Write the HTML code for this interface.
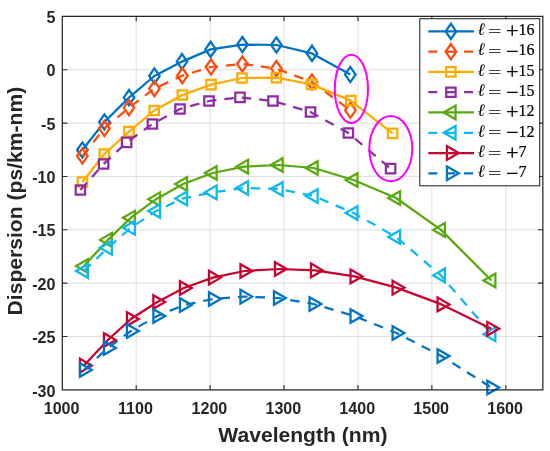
<!DOCTYPE html>
<html><head><meta charset="utf-8"><title>Dispersion vs Wavelength</title>
<style>html,body{margin:0;padding:0;background:#fff}svg{display:block}</style></head>
<body>
<svg width="550" height="451" viewBox="0 0 550 451">
<rect width="550" height="451" fill="#fff"/>
<path d="M136.22,16.36V389.9M210.13,16.36V389.9M284.05,16.36V389.9M357.97,16.36V389.9M431.88,16.36V389.9M505.80,16.36V389.9M62.3,69.72H542.85M62.3,123.09H542.85M62.3,176.45H542.85M62.3,229.81H542.85M62.3,283.17H542.85M62.3,336.54H542.85" stroke="#dfdfdf" stroke-width="1" fill="none"/>
<path d="M136.22,389.9v-5.0M136.22,16.36v5.0M210.13,389.9v-5.0M210.13,16.36v5.0M284.05,389.9v-5.0M284.05,16.36v5.0M357.97,389.9v-5.0M357.97,16.36v5.0M431.88,389.9v-5.0M431.88,16.36v5.0M505.80,389.9v-5.0M505.80,16.36v5.0M62.3,69.72h5.0M542.85,69.72h-5.0M62.3,123.09h5.0M542.85,123.09h-5.0M62.3,176.45h5.0M542.85,176.45h-5.0M62.3,229.81h5.0M542.85,229.81h-5.0M62.3,283.17h5.0M542.85,283.17h-5.0M62.3,336.54h5.0M542.85,336.54h-5.0" stroke="#2e2e2e" stroke-width="1.1" fill="none"/>
<path d="M82.40,150.00L104.40,122.00L129.00,97.60L154.40,76.00L182.00,61.60L210.60,49.40L242.40,44.60L276.40,45.00L312.00,53.40L350.30,74.50" fill="none" stroke="#0072C6" stroke-width="2.25" stroke-linejoin="round"/>
<path d="M77.10,150.00L82.40,142.40L87.70,150.00L82.40,157.60Z" fill="none" stroke="#0072C6" stroke-width="2.25" stroke-linejoin="miter"/>
<path d="M99.10,122.00L104.40,114.40L109.70,122.00L104.40,129.60Z" fill="none" stroke="#0072C6" stroke-width="2.25" stroke-linejoin="miter"/>
<path d="M123.70,97.60L129.00,90.00L134.30,97.60L129.00,105.20Z" fill="none" stroke="#0072C6" stroke-width="2.25" stroke-linejoin="miter"/>
<path d="M149.10,76.00L154.40,68.40L159.70,76.00L154.40,83.60Z" fill="none" stroke="#0072C6" stroke-width="2.25" stroke-linejoin="miter"/>
<path d="M176.70,61.60L182.00,54.00L187.30,61.60L182.00,69.20Z" fill="none" stroke="#0072C6" stroke-width="2.25" stroke-linejoin="miter"/>
<path d="M205.30,49.40L210.60,41.80L215.90,49.40L210.60,57.00Z" fill="none" stroke="#0072C6" stroke-width="2.25" stroke-linejoin="miter"/>
<path d="M237.10,44.60L242.40,37.00L247.70,44.60L242.40,52.20Z" fill="none" stroke="#0072C6" stroke-width="2.25" stroke-linejoin="miter"/>
<path d="M271.10,45.00L276.40,37.40L281.70,45.00L276.40,52.60Z" fill="none" stroke="#0072C6" stroke-width="2.25" stroke-linejoin="miter"/>
<path d="M306.70,53.40L312.00,45.80L317.30,53.40L312.00,61.00Z" fill="none" stroke="#0072C6" stroke-width="2.25" stroke-linejoin="miter"/>
<path d="M345.00,74.50L350.30,66.90L355.60,74.50L350.30,82.10Z" fill="none" stroke="#0072C6" stroke-width="2.25" stroke-linejoin="miter"/>
<path d="M82.40,156.00L104.40,128.40L129.00,107.60L154.40,88.60L182.40,75.60L211.00,67.00L242.40,64.00L276.40,68.60L312.00,82.00L350.40,110.30" fill="none" stroke="#FF4A0A" stroke-width="2.25" stroke-linejoin="round" stroke-dasharray="9.6 7.9"/>
<path d="M77.10,156.00L82.40,148.40L87.70,156.00L82.40,163.60Z" fill="none" stroke="#FF4A0A" stroke-width="2.25" stroke-linejoin="miter"/>
<path d="M99.10,128.40L104.40,120.80L109.70,128.40L104.40,136.00Z" fill="none" stroke="#FF4A0A" stroke-width="2.25" stroke-linejoin="miter"/>
<path d="M123.70,107.60L129.00,100.00L134.30,107.60L129.00,115.20Z" fill="none" stroke="#FF4A0A" stroke-width="2.25" stroke-linejoin="miter"/>
<path d="M149.10,88.60L154.40,81.00L159.70,88.60L154.40,96.20Z" fill="none" stroke="#FF4A0A" stroke-width="2.25" stroke-linejoin="miter"/>
<path d="M177.10,75.60L182.40,68.00L187.70,75.60L182.40,83.20Z" fill="none" stroke="#FF4A0A" stroke-width="2.25" stroke-linejoin="miter"/>
<path d="M205.70,67.00L211.00,59.40L216.30,67.00L211.00,74.60Z" fill="none" stroke="#FF4A0A" stroke-width="2.25" stroke-linejoin="miter"/>
<path d="M237.10,64.00L242.40,56.40L247.70,64.00L242.40,71.60Z" fill="none" stroke="#FF4A0A" stroke-width="2.25" stroke-linejoin="miter"/>
<path d="M271.10,68.60L276.40,61.00L281.70,68.60L276.40,76.20Z" fill="none" stroke="#FF4A0A" stroke-width="2.25" stroke-linejoin="miter"/>
<path d="M306.70,82.00L312.00,74.40L317.30,82.00L312.00,89.60Z" fill="none" stroke="#FF4A0A" stroke-width="2.25" stroke-linejoin="miter"/>
<path d="M345.10,110.30L350.40,102.70L355.70,110.30L350.40,117.90Z" fill="none" stroke="#FF4A0A" stroke-width="2.25" stroke-linejoin="miter"/>
<path d="M82.40,182.00L104.40,154.00L129.00,131.60L154.20,110.50L182.40,95.00L211.00,84.60L242.00,78.00L276.40,77.60L311.60,84.40L350.80,100.60L392.60,133.40" fill="none" stroke="#FFAA00" stroke-width="2.25" stroke-linejoin="round"/>
<path d="M77.70,177.30H87.10V186.70H77.70Z" fill="none" stroke="#FFAA00" stroke-width="2.25" stroke-linejoin="miter"/>
<path d="M99.70,149.30H109.10V158.70H99.70Z" fill="none" stroke="#FFAA00" stroke-width="2.25" stroke-linejoin="miter"/>
<path d="M124.30,126.90H133.70V136.30H124.30Z" fill="none" stroke="#FFAA00" stroke-width="2.25" stroke-linejoin="miter"/>
<path d="M149.50,105.80H158.90V115.20H149.50Z" fill="none" stroke="#FFAA00" stroke-width="2.25" stroke-linejoin="miter"/>
<path d="M177.70,90.30H187.10V99.70H177.70Z" fill="none" stroke="#FFAA00" stroke-width="2.25" stroke-linejoin="miter"/>
<path d="M206.30,79.90H215.70V89.30H206.30Z" fill="none" stroke="#FFAA00" stroke-width="2.25" stroke-linejoin="miter"/>
<path d="M237.30,73.30H246.70V82.70H237.30Z" fill="none" stroke="#FFAA00" stroke-width="2.25" stroke-linejoin="miter"/>
<path d="M271.70,72.90H281.10V82.30H271.70Z" fill="none" stroke="#FFAA00" stroke-width="2.25" stroke-linejoin="miter"/>
<path d="M306.90,79.70H316.30V89.10H306.90Z" fill="none" stroke="#FFAA00" stroke-width="2.25" stroke-linejoin="miter"/>
<path d="M346.10,95.90H355.50V105.30H346.10Z" fill="none" stroke="#FFAA00" stroke-width="2.25" stroke-linejoin="miter"/>
<path d="M387.90,128.70H397.30V138.10H387.90Z" fill="none" stroke="#FFAA00" stroke-width="2.25" stroke-linejoin="miter"/>
<path d="M80.40,190.00L103.60,164.00L126.60,142.40L152.40,124.00L180.00,109.00L209.00,101.00L240.00,97.40L273.00,101.00L310.50,112.00L348.40,133.00L390.60,168.60" fill="none" stroke="#8E2CA4" stroke-width="2.25" stroke-linejoin="round" stroke-dasharray="9.6 7.9"/>
<path d="M75.70,185.30H85.10V194.70H75.70Z" fill="none" stroke="#8E2CA4" stroke-width="2.25" stroke-linejoin="miter"/>
<path d="M98.90,159.30H108.30V168.70H98.90Z" fill="none" stroke="#8E2CA4" stroke-width="2.25" stroke-linejoin="miter"/>
<path d="M121.90,137.70H131.30V147.10H121.90Z" fill="none" stroke="#8E2CA4" stroke-width="2.25" stroke-linejoin="miter"/>
<path d="M147.70,119.30H157.10V128.70H147.70Z" fill="none" stroke="#8E2CA4" stroke-width="2.25" stroke-linejoin="miter"/>
<path d="M175.30,104.30H184.70V113.70H175.30Z" fill="none" stroke="#8E2CA4" stroke-width="2.25" stroke-linejoin="miter"/>
<path d="M204.30,96.30H213.70V105.70H204.30Z" fill="none" stroke="#8E2CA4" stroke-width="2.25" stroke-linejoin="miter"/>
<path d="M235.30,92.70H244.70V102.10H235.30Z" fill="none" stroke="#8E2CA4" stroke-width="2.25" stroke-linejoin="miter"/>
<path d="M268.30,96.30H277.70V105.70H268.30Z" fill="none" stroke="#8E2CA4" stroke-width="2.25" stroke-linejoin="miter"/>
<path d="M305.80,107.30H315.20V116.70H305.80Z" fill="none" stroke="#8E2CA4" stroke-width="2.25" stroke-linejoin="miter"/>
<path d="M343.70,128.30H353.10V137.70H343.70Z" fill="none" stroke="#8E2CA4" stroke-width="2.25" stroke-linejoin="miter"/>
<path d="M385.90,163.90H395.30V173.30H385.90Z" fill="none" stroke="#8E2CA4" stroke-width="2.25" stroke-linejoin="miter"/>
<path d="M83.90,266.00L107.90,239.90L130.90,217.70L156.10,199.20L183.10,184.00L212.70,173.00L244.10,166.70L278.70,165.00L313.70,168.00L353.50,180.00L396.10,198.00L441.00,229.90L491.40,280.50" fill="none" stroke="#58A80E" stroke-width="2.25" stroke-linejoin="round"/>
<path d="M76.00,266.00L87.85,259.16L87.85,272.84Z" fill="none" stroke="#58A80E" stroke-width="2.25" stroke-linejoin="miter"/>
<path d="M100.00,239.90L111.85,233.06L111.85,246.74Z" fill="none" stroke="#58A80E" stroke-width="2.25" stroke-linejoin="miter"/>
<path d="M123.00,217.70L134.85,210.86L134.85,224.54Z" fill="none" stroke="#58A80E" stroke-width="2.25" stroke-linejoin="miter"/>
<path d="M148.20,199.20L160.05,192.36L160.05,206.04Z" fill="none" stroke="#58A80E" stroke-width="2.25" stroke-linejoin="miter"/>
<path d="M175.20,184.00L187.05,177.16L187.05,190.84Z" fill="none" stroke="#58A80E" stroke-width="2.25" stroke-linejoin="miter"/>
<path d="M204.80,173.00L216.65,166.16L216.65,179.84Z" fill="none" stroke="#58A80E" stroke-width="2.25" stroke-linejoin="miter"/>
<path d="M236.20,166.70L248.05,159.86L248.05,173.54Z" fill="none" stroke="#58A80E" stroke-width="2.25" stroke-linejoin="miter"/>
<path d="M270.80,165.00L282.65,158.16L282.65,171.84Z" fill="none" stroke="#58A80E" stroke-width="2.25" stroke-linejoin="miter"/>
<path d="M305.80,168.00L317.65,161.16L317.65,174.84Z" fill="none" stroke="#58A80E" stroke-width="2.25" stroke-linejoin="miter"/>
<path d="M345.60,180.00L357.45,173.16L357.45,186.84Z" fill="none" stroke="#58A80E" stroke-width="2.25" stroke-linejoin="miter"/>
<path d="M388.20,198.00L400.05,191.16L400.05,204.84Z" fill="none" stroke="#58A80E" stroke-width="2.25" stroke-linejoin="miter"/>
<path d="M433.10,229.90L444.95,223.06L444.95,236.74Z" fill="none" stroke="#58A80E" stroke-width="2.25" stroke-linejoin="miter"/>
<path d="M483.50,280.50L495.35,273.66L495.35,287.34Z" fill="none" stroke="#58A80E" stroke-width="2.25" stroke-linejoin="miter"/>
<path d="M83.90,271.00L107.90,247.80L130.90,227.80L156.10,211.00L183.10,198.40L212.70,192.40L244.10,188.00L278.70,189.00L313.70,196.00L353.50,213.00L396.10,237.00L441.00,275.40L491.40,334.20" fill="none" stroke="#0CB8F2" stroke-width="2.25" stroke-linejoin="round" stroke-dasharray="9.6 7.9"/>
<path d="M76.00,271.00L87.85,264.16L87.85,277.84Z" fill="none" stroke="#0CB8F2" stroke-width="2.25" stroke-linejoin="miter"/>
<path d="M100.00,247.80L111.85,240.96L111.85,254.64Z" fill="none" stroke="#0CB8F2" stroke-width="2.25" stroke-linejoin="miter"/>
<path d="M123.00,227.80L134.85,220.96L134.85,234.64Z" fill="none" stroke="#0CB8F2" stroke-width="2.25" stroke-linejoin="miter"/>
<path d="M148.20,211.00L160.05,204.16L160.05,217.84Z" fill="none" stroke="#0CB8F2" stroke-width="2.25" stroke-linejoin="miter"/>
<path d="M175.20,198.40L187.05,191.56L187.05,205.24Z" fill="none" stroke="#0CB8F2" stroke-width="2.25" stroke-linejoin="miter"/>
<path d="M204.80,192.40L216.65,185.56L216.65,199.24Z" fill="none" stroke="#0CB8F2" stroke-width="2.25" stroke-linejoin="miter"/>
<path d="M236.20,188.00L248.05,181.16L248.05,194.84Z" fill="none" stroke="#0CB8F2" stroke-width="2.25" stroke-linejoin="miter"/>
<path d="M270.80,189.00L282.65,182.16L282.65,195.84Z" fill="none" stroke="#0CB8F2" stroke-width="2.25" stroke-linejoin="miter"/>
<path d="M305.80,196.00L317.65,189.16L317.65,202.84Z" fill="none" stroke="#0CB8F2" stroke-width="2.25" stroke-linejoin="miter"/>
<path d="M345.60,213.00L357.45,206.16L357.45,219.84Z" fill="none" stroke="#0CB8F2" stroke-width="2.25" stroke-linejoin="miter"/>
<path d="M388.20,237.00L400.05,230.16L400.05,243.84Z" fill="none" stroke="#0CB8F2" stroke-width="2.25" stroke-linejoin="miter"/>
<path d="M433.10,275.40L444.95,268.56L444.95,282.24Z" fill="none" stroke="#0CB8F2" stroke-width="2.25" stroke-linejoin="miter"/>
<path d="M483.50,334.20L495.35,327.36L495.35,341.04Z" fill="none" stroke="#0CB8F2" stroke-width="2.25" stroke-linejoin="miter"/>
<path d="M83.90,365.60L107.90,340.00L130.90,319.00L157.30,302.00L183.90,288.00L212.90,277.60L244.40,271.00L278.90,269.00L314.90,270.40L354.50,276.40L396.50,287.60L441.50,304.40L491.30,328.70" fill="none" stroke="#C8002E" stroke-width="2.25" stroke-linejoin="round"/>
<path d="M91.80,365.60L79.95,358.76L79.95,372.44Z" fill="none" stroke="#C8002E" stroke-width="2.25" stroke-linejoin="miter"/>
<path d="M115.80,340.00L103.95,333.16L103.95,346.84Z" fill="none" stroke="#C8002E" stroke-width="2.25" stroke-linejoin="miter"/>
<path d="M138.80,319.00L126.95,312.16L126.95,325.84Z" fill="none" stroke="#C8002E" stroke-width="2.25" stroke-linejoin="miter"/>
<path d="M165.20,302.00L153.35,295.16L153.35,308.84Z" fill="none" stroke="#C8002E" stroke-width="2.25" stroke-linejoin="miter"/>
<path d="M191.80,288.00L179.95,281.16L179.95,294.84Z" fill="none" stroke="#C8002E" stroke-width="2.25" stroke-linejoin="miter"/>
<path d="M220.80,277.60L208.95,270.76L208.95,284.44Z" fill="none" stroke="#C8002E" stroke-width="2.25" stroke-linejoin="miter"/>
<path d="M252.30,271.00L240.45,264.16L240.45,277.84Z" fill="none" stroke="#C8002E" stroke-width="2.25" stroke-linejoin="miter"/>
<path d="M286.80,269.00L274.95,262.16L274.95,275.84Z" fill="none" stroke="#C8002E" stroke-width="2.25" stroke-linejoin="miter"/>
<path d="M322.80,270.40L310.95,263.56L310.95,277.24Z" fill="none" stroke="#C8002E" stroke-width="2.25" stroke-linejoin="miter"/>
<path d="M362.40,276.40L350.55,269.56L350.55,283.24Z" fill="none" stroke="#C8002E" stroke-width="2.25" stroke-linejoin="miter"/>
<path d="M404.40,287.60L392.55,280.76L392.55,294.44Z" fill="none" stroke="#C8002E" stroke-width="2.25" stroke-linejoin="miter"/>
<path d="M449.40,304.40L437.55,297.56L437.55,311.24Z" fill="none" stroke="#C8002E" stroke-width="2.25" stroke-linejoin="miter"/>
<path d="M499.20,328.70L487.35,321.86L487.35,335.54Z" fill="none" stroke="#C8002E" stroke-width="2.25" stroke-linejoin="miter"/>
<path d="M83.90,370.00L107.90,348.00L130.90,331.00L157.30,316.00L183.90,305.00L212.90,299.00L244.40,296.60L277.90,298.00L313.50,304.00L354.50,316.00L396.50,333.00L441.50,356.00L491.30,387.50" fill="none" stroke="#0072C6" stroke-width="2.25" stroke-linejoin="round" stroke-dasharray="9.6 7.9"/>
<path d="M91.80,370.00L79.95,363.16L79.95,376.84Z" fill="none" stroke="#0072C6" stroke-width="2.25" stroke-linejoin="miter"/>
<path d="M115.80,348.00L103.95,341.16L103.95,354.84Z" fill="none" stroke="#0072C6" stroke-width="2.25" stroke-linejoin="miter"/>
<path d="M138.80,331.00L126.95,324.16L126.95,337.84Z" fill="none" stroke="#0072C6" stroke-width="2.25" stroke-linejoin="miter"/>
<path d="M165.20,316.00L153.35,309.16L153.35,322.84Z" fill="none" stroke="#0072C6" stroke-width="2.25" stroke-linejoin="miter"/>
<path d="M191.80,305.00L179.95,298.16L179.95,311.84Z" fill="none" stroke="#0072C6" stroke-width="2.25" stroke-linejoin="miter"/>
<path d="M220.80,299.00L208.95,292.16L208.95,305.84Z" fill="none" stroke="#0072C6" stroke-width="2.25" stroke-linejoin="miter"/>
<path d="M252.30,296.60L240.45,289.76L240.45,303.44Z" fill="none" stroke="#0072C6" stroke-width="2.25" stroke-linejoin="miter"/>
<path d="M285.80,298.00L273.95,291.16L273.95,304.84Z" fill="none" stroke="#0072C6" stroke-width="2.25" stroke-linejoin="miter"/>
<path d="M321.40,304.00L309.55,297.16L309.55,310.84Z" fill="none" stroke="#0072C6" stroke-width="2.25" stroke-linejoin="miter"/>
<path d="M362.40,316.00L350.55,309.16L350.55,322.84Z" fill="none" stroke="#0072C6" stroke-width="2.25" stroke-linejoin="miter"/>
<path d="M404.40,333.00L392.55,326.16L392.55,339.84Z" fill="none" stroke="#0072C6" stroke-width="2.25" stroke-linejoin="miter"/>
<path d="M449.40,356.00L437.55,349.16L437.55,362.84Z" fill="none" stroke="#0072C6" stroke-width="2.25" stroke-linejoin="miter"/>
<path d="M499.20,387.50L487.35,380.66L487.35,394.34Z" fill="none" stroke="#0072C6" stroke-width="2.25" stroke-linejoin="miter"/>
<ellipse cx="351.4" cy="88.9" rx="16.6" ry="34.1" fill="none" stroke="#FF00FF" stroke-width="2"/>
<ellipse cx="390.8" cy="148.7" rx="21.5" ry="32.6" fill="none" stroke="#FF00FF" stroke-width="2"/>
<rect x="62.3" y="16.36" width="480.55" height="373.53999999999996" fill="none" stroke="#262626" stroke-width="1.25"/>
<rect x="419.8" y="18.7" width="119.90000000000003" height="167.10000000000002" fill="#fff" stroke="#2e2e2e" stroke-width="1.1"/>
<path d="M428.3,31.4H474" stroke="#0072C6" stroke-width="2.25" fill="none"/>
<path d="M445.60,31.40L450.90,23.80L456.20,31.40L450.90,39.00Z" fill="none" stroke="#0072C6" stroke-width="2.25" stroke-linejoin="miter"/>
<g font-family="'Liberation Serif', 'DejaVu Serif', serif" font-size="16" fill="#000" stroke="#000" stroke-width="0.2">
<text x="477.4" y="35.20" font-style="italic" font-size="17.6" stroke="none">ℓ</text>
<text transform="translate(488.12,36.05) scale(1.478,0.950)">=</text>
<text transform="translate(505.88,38.21) scale(1.398,1.320)">+</text>
<text x="518.4" y="35.20" letter-spacing="0.1">16</text>
</g>
<path d="M428.3,51.67H474" stroke="#FF4A0A" stroke-width="2.25" fill="none" stroke-dasharray="9 8.9"/>
<path d="M445.60,51.67L450.90,44.07L456.20,51.67L450.90,59.27Z" fill="none" stroke="#FF4A0A" stroke-width="2.25" stroke-linejoin="miter"/>
<g font-family="'Liberation Serif', 'DejaVu Serif', serif" font-size="16" fill="#000" stroke="#000" stroke-width="0.2">
<text x="477.4" y="55.47" font-style="italic" font-size="17.6" stroke="none">ℓ</text>
<text transform="translate(488.12,56.32) scale(1.478,0.950)">=</text>
<text transform="translate(505.88,58.01) scale(1.398,1.250)">−</text>
<text x="518.4" y="55.47" letter-spacing="0.1">16</text>
</g>
<path d="M428.3,71.94H474" stroke="#FFAA00" stroke-width="2.25" fill="none"/>
<path d="M446.20,67.24H455.60V76.64H446.20Z" fill="none" stroke="#FFAA00" stroke-width="2.25" stroke-linejoin="miter"/>
<g font-family="'Liberation Serif', 'DejaVu Serif', serif" font-size="16" fill="#000" stroke="#000" stroke-width="0.2">
<text x="477.4" y="75.74" font-style="italic" font-size="17.6" stroke="none">ℓ</text>
<text transform="translate(488.12,76.59) scale(1.478,0.950)">=</text>
<text transform="translate(505.88,78.75) scale(1.398,1.320)">+</text>
<text x="518.4" y="75.74" letter-spacing="0.1">15</text>
</g>
<path d="M428.3,92.21000000000001H474" stroke="#8E2CA4" stroke-width="2.25" fill="none" stroke-dasharray="9 8.9"/>
<path d="M446.20,87.51H455.60V96.91H446.20Z" fill="none" stroke="#8E2CA4" stroke-width="2.25" stroke-linejoin="miter"/>
<g font-family="'Liberation Serif', 'DejaVu Serif', serif" font-size="16" fill="#000" stroke="#000" stroke-width="0.2">
<text x="477.4" y="96.01" font-style="italic" font-size="17.6" stroke="none">ℓ</text>
<text transform="translate(488.12,96.86) scale(1.478,0.950)">=</text>
<text transform="translate(505.88,98.55) scale(1.398,1.250)">−</text>
<text x="518.4" y="96.01" letter-spacing="0.1">15</text>
</g>
<path d="M428.3,112.47999999999999H474" stroke="#58A80E" stroke-width="2.25" fill="none"/>
<path d="M443.70,112.48L455.55,105.64L455.55,119.32Z" fill="none" stroke="#58A80E" stroke-width="2.25" stroke-linejoin="miter"/>
<g font-family="'Liberation Serif', 'DejaVu Serif', serif" font-size="16" fill="#000" stroke="#000" stroke-width="0.2">
<text x="477.4" y="116.28" font-style="italic" font-size="17.6" stroke="none">ℓ</text>
<text transform="translate(488.12,117.13) scale(1.478,0.950)">=</text>
<text transform="translate(505.88,119.29) scale(1.398,1.320)">+</text>
<text x="518.4" y="116.28" letter-spacing="0.1">12</text>
</g>
<path d="M428.3,132.75H474" stroke="#0CB8F2" stroke-width="2.25" fill="none" stroke-dasharray="9 8.9"/>
<path d="M443.70,132.75L455.55,125.91L455.55,139.59Z" fill="none" stroke="#0CB8F2" stroke-width="2.25" stroke-linejoin="miter"/>
<g font-family="'Liberation Serif', 'DejaVu Serif', serif" font-size="16" fill="#000" stroke="#000" stroke-width="0.2">
<text x="477.4" y="136.55" font-style="italic" font-size="17.6" stroke="none">ℓ</text>
<text transform="translate(488.12,137.40) scale(1.478,0.950)">=</text>
<text transform="translate(505.88,139.09) scale(1.398,1.250)">−</text>
<text x="518.4" y="136.55" letter-spacing="0.1">12</text>
</g>
<path d="M428.3,153.02H474" stroke="#C8002E" stroke-width="2.25" fill="none"/>
<path d="M458.80,153.02L446.95,146.18L446.95,159.86Z" fill="none" stroke="#C8002E" stroke-width="2.25" stroke-linejoin="miter"/>
<g font-family="'Liberation Serif', 'DejaVu Serif', serif" font-size="16" fill="#000" stroke="#000" stroke-width="0.2">
<text x="477.4" y="156.82" font-style="italic" font-size="17.6" stroke="none">ℓ</text>
<text transform="translate(488.12,157.67) scale(1.478,0.950)">=</text>
<text transform="translate(505.88,159.83) scale(1.398,1.320)">+</text>
<text x="518.4" y="156.82" letter-spacing="0.1">7</text>
</g>
<path d="M428.3,173.29H474" stroke="#0072C6" stroke-width="2.25" fill="none" stroke-dasharray="9 8.9"/>
<path d="M458.80,173.29L446.95,166.45L446.95,180.13Z" fill="none" stroke="#0072C6" stroke-width="2.25" stroke-linejoin="miter"/>
<g font-family="'Liberation Serif', 'DejaVu Serif', serif" font-size="16" fill="#000" stroke="#000" stroke-width="0.2">
<text x="477.4" y="177.09" font-style="italic" font-size="17.6" stroke="none">ℓ</text>
<text transform="translate(488.12,177.94) scale(1.478,0.950)">=</text>
<text transform="translate(505.88,179.63) scale(1.398,1.250)">−</text>
<text x="518.4" y="177.09" letter-spacing="0.1">7</text>
</g>
<g font-family="'Liberation Sans', Arial, sans-serif" font-weight="bold" font-size="16.1" fill="#262626">
<text x="61.60" y="414.1" text-anchor="middle">1000</text>
<text x="135.52" y="414.1" text-anchor="middle">1100</text>
<text x="209.43" y="414.1" text-anchor="middle">1200</text>
<text x="283.35" y="414.1" text-anchor="middle">1300</text>
<text x="357.27" y="414.1" text-anchor="middle">1400</text>
<text x="431.18" y="414.1" text-anchor="middle">1500</text>
<text x="505.10" y="414.1" text-anchor="middle">1600</text>
<text x="55.4" y="22.96" text-anchor="end">5</text>
<text x="55.4" y="76.32" text-anchor="end">0</text>
<text x="55.4" y="129.69" text-anchor="end">-5</text>
<text x="55.4" y="183.05" text-anchor="end">-10</text>
<text x="55.4" y="236.41" text-anchor="end">-15</text>
<text x="55.4" y="289.77" text-anchor="end">-20</text>
<text x="55.4" y="343.14" text-anchor="end">-25</text>
<text x="55.4" y="396.50" text-anchor="end">-30</text>
</g>
<g font-family="'Liberation Sans', Arial, sans-serif" font-weight="bold" font-size="21.1" fill="#262626">
<text x="302.9" y="441.9" text-anchor="middle">Wavelength (nm)</text>
<text transform="translate(21.5,201.1) rotate(-90)" text-anchor="middle">Dispersion (ps/km-nm)</text>
</g>
</svg>
</body></html>
